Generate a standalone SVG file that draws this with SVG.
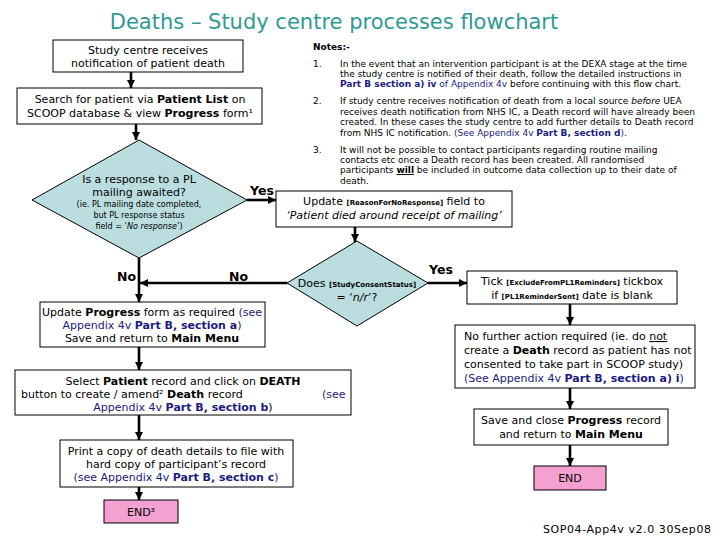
<svg xmlns="http://www.w3.org/2000/svg" width="720" height="540" viewBox="0 0 720 540">
<defs>
<marker id="ah" markerUnits="userSpaceOnUse" markerWidth="9" markerHeight="9" refX="8" refY="4.5" orient="auto">
<path d="M0,0.5 L8,4.5 L0,8.5 z" fill="#000"/>
</marker>
<style>
text{font-family:"DejaVu Sans",Verdana,sans-serif;fill:#000}
.t{font-size:11px;text-anchor:middle}
.l{font-size:11px}
.s{font-size:8px;text-anchor:middle}
.n{font-size:9px}
.f{font-size:7px;font-weight:bold}
.b{font-weight:bold}
.i{font-style:italic}
.u{fill:#1a1a80}
.lbl{font-size:12.5px;font-weight:bold}
.box{fill:#fff;stroke:#000;stroke-width:1}
.dia{fill:#bbdde0;stroke:#000;stroke-width:1}
.end{fill:#f4a0d0;stroke:#000;stroke-width:1}
.c{stroke:#000;stroke-width:2.6;fill:none}
</style>
</defs>
<rect width="720" height="540" fill="#fff"/>
<text x="334" y="29" style="font-size:21px;text-anchor:middle;fill:#2f9a94">Deaths – Study centre processes flowchart</text>

<g id="notes">
<text class="n b" x="313" y="50">Notes:-</text>
<text class="n" x="313" y="67">1.</text>
<text class="n" x="340" y="67">In the event that an intervention participant is at the DEXA stage at the time</text>
<text class="n" x="340" y="77">the study centre is notified of their death, follow the detailed instructions in</text>
<text class="n" x="340" y="87"><tspan class="u b">Part B section a) iv</tspan><tspan class="u"> of Appendix 4v</tspan> before continuing with this flow chart.</text>
<text class="n" x="313" y="104">2.</text>
<text class="n" x="340" y="104">If study centre receives notification of death from a local source <tspan class="i">before</tspan> UEA</text>
<text class="n" x="340" y="115">receives death notification from NHS IC, a Death record will have already been</text>
<text class="n" x="340" y="125">created.  In these cases the study centre to add further details to Death record</text>
<text class="n" x="340" y="136">from NHS IC notification.  <tspan class="u">(See Appendix 4v </tspan><tspan class="u b">Part B, section d</tspan><tspan class="u">)</tspan>.</text>
<text class="n" x="313" y="153">3.</text>
<text class="n" x="340" y="153">It will not be possible to contact participants regarding routine mailing</text>
<text class="n" x="340" y="163">contacts etc once a Death record has been created.  All randomised</text>
<text class="n" x="340" y="173">participants <tspan class="b" text-decoration="underline">will</tspan> be included in outcome data collection up to their date of</text>
<text class="n" x="340" y="184">death.</text>
</g>

<g id="connectors">
<line class="c" x1="131" y1="72" x2="131" y2="88" marker-end="url(#ah)"/>
<line class="c" x1="136" y1="124" x2="136" y2="140" marker-end="url(#ah)"/>
<line class="c" x1="247" y1="200" x2="276" y2="200" marker-end="url(#ah)"/>
<line class="c" x1="355" y1="227" x2="355" y2="242" marker-end="url(#ah)"/>
<line class="c" x1="139" y1="258" x2="139" y2="302" marker-end="url(#ah)"/>
<line class="c" x1="287" y1="283" x2="140" y2="283" marker-end="url(#ah)"/>
<line class="c" x1="428" y1="283" x2="467" y2="283" marker-end="url(#ah)"/>
<line class="c" x1="570" y1="304" x2="570" y2="325" marker-end="url(#ah)"/>
<line class="c" x1="570" y1="388" x2="570" y2="409" marker-end="url(#ah)"/>
<line class="c" x1="570" y1="445" x2="570" y2="466" marker-end="url(#ah)"/>
<line class="c" x1="139" y1="347" x2="139" y2="370" marker-end="url(#ah)"/>
<line class="c" x1="139" y1="415" x2="139" y2="440" marker-end="url(#ah)"/>
<line class="c" x1="139" y1="487" x2="139" y2="500" marker-end="url(#ah)"/>
<text class="lbl" x="250" y="195">Yes</text>
<text class="lbl" x="429" y="274">Yes</text>
<text class="lbl" x="117" y="281">No</text>
<text class="lbl" x="229" y="281">No</text>
</g>

<g id="n1">
<rect class="box" x="53" y="40" width="190" height="32"/>
<text class="t" x="148" y="54">Study centre receives</text>
<text class="t" x="148" y="67">notification of patient death</text>
</g>
<g id="n2">
<rect class="box" x="17" y="88" width="245" height="36"/>
<text class="t" x="140" y="103">Search for patient via <tspan class="b">Patient List</tspan> on</text>
<text class="t" x="140" y="117">SCOOP database &amp; view <tspan class="b">Progress</tspan> form¹</text>
</g>
<g id="d1">
<polygon class="dia" points="139,140 247,200 139,258 32,200"/>
<text class="t" x="139" y="183">Is a response to a PL</text>
<text class="t" x="139" y="196">mailing awaited?</text>
<text class="s" x="139" y="207">(ie. PL mailing date completed,</text>
<text class="s" x="139" y="218">but PL response status</text>
<text class="s" x="139" y="229">field = ‘<tspan class="i">No response</tspan>’)</text>
</g>
<g id="n3">
<rect class="box" x="276" y="191" width="236" height="36"/>
<text class="t" x="394" y="205">Update <tspan class="f">[ReasonForNoResponse]</tspan> field to</text>
<text class="t i" x="394" y="219">‘Patient died around receipt of mailing’</text>
</g>
<g id="d2">
<polygon class="dia" points="357,241 428,283 357,326 287,283"/>
<text class="t" x="357" y="287">Does <tspan class="f">[StudyConsentStatus]</tspan></text>
<text class="t" x="357" y="301">= ‘<tspan class="i">n/r</tspan>’?</text>
</g>
<g id="n4">
<rect class="box" x="467" y="271" width="210" height="33"/>
<text class="t" x="572" y="285">Tick <tspan class="f">[ExcludeFromPL1Reminders]</tspan> tickbox</text>
<text class="t" x="572" y="299">if <tspan class="f">[PL1ReminderSent]</tspan> date is blank</text>
</g>
<g id="n5">
<rect class="box" x="40" y="302" width="225" height="45"/>
<text class="t" x="152" y="316">Update <tspan class="b">Progress</tspan> form as required <tspan class="u">(see</tspan></text>
<text class="t u" x="152" y="329">Appendix 4v <tspan class="b">Part B, section a</tspan>)</text>
<text class="t" x="152" y="342">Save and return to <tspan class="b">Main Menu</tspan></text>
</g>
<g id="n6">
<rect class="box" x="455" y="325" width="240" height="63"/>
<text class="l" x="464" y="340">No further action required (ie. do <tspan text-decoration="underline">not</tspan></text>
<text class="l" x="464" y="354">create a <tspan class="b">Death</tspan> record as patient has not</text>
<text class="l" x="464" y="368">consented to take part in SCOOP study)</text>
<text class="l u" x="464" y="382">(See Appendix 4v <tspan class="b">Part B, section a) i</tspan>)</text>
</g>
<g id="n7">
<rect class="box" x="15" y="370" width="336" height="45"/>
<text class="t" x="183" y="385">Select <tspan class="b">Patient</tspan> record and click on <tspan class="b">DEATH</tspan></text>
<text class="l" x="21" y="398">button to create / amend² <tspan class="b">Death</tspan> record</text>
<text class="l u" x="322" y="398">(see</text>
<text class="t u" x="183" y="411">Appendix 4v <tspan class="b">Part B, section b</tspan><tspan style="fill:#000">)</tspan></text>
</g>
<g id="n8">
<rect class="box" x="474" y="409" width="194" height="36"/>
<text class="t" x="571" y="424">Save and close <tspan class="b">Progress</tspan> record</text>
<text class="t" x="571" y="438">and return to <tspan class="b">Main Menu</tspan></text>
</g>
<g id="n9">
<rect class="box" x="60" y="440" width="233" height="47"/>
<text class="t" x="176" y="455">Print a copy of death details to file with</text>
<text class="t" x="176" y="468">hard copy of participant’s record</text>
<text class="t u" x="176" y="481">(see Appendix 4v <tspan class="b">Part B, section c</tspan>)</text>
</g>
<g id="end1">
<rect class="end" x="104" y="500" width="74" height="23"/>
<text class="t" x="141" y="516">END³</text>
</g>
<g id="end2">
<rect class="end" x="534" y="466" width="72" height="24"/>
<text class="t" x="570" y="482">END</text>
</g>
<text x="543" y="533" textLength="168" lengthAdjust="spacing" style="font-size:11px">SOP04-App4v v2.0 30Sep08</text>
</svg>
